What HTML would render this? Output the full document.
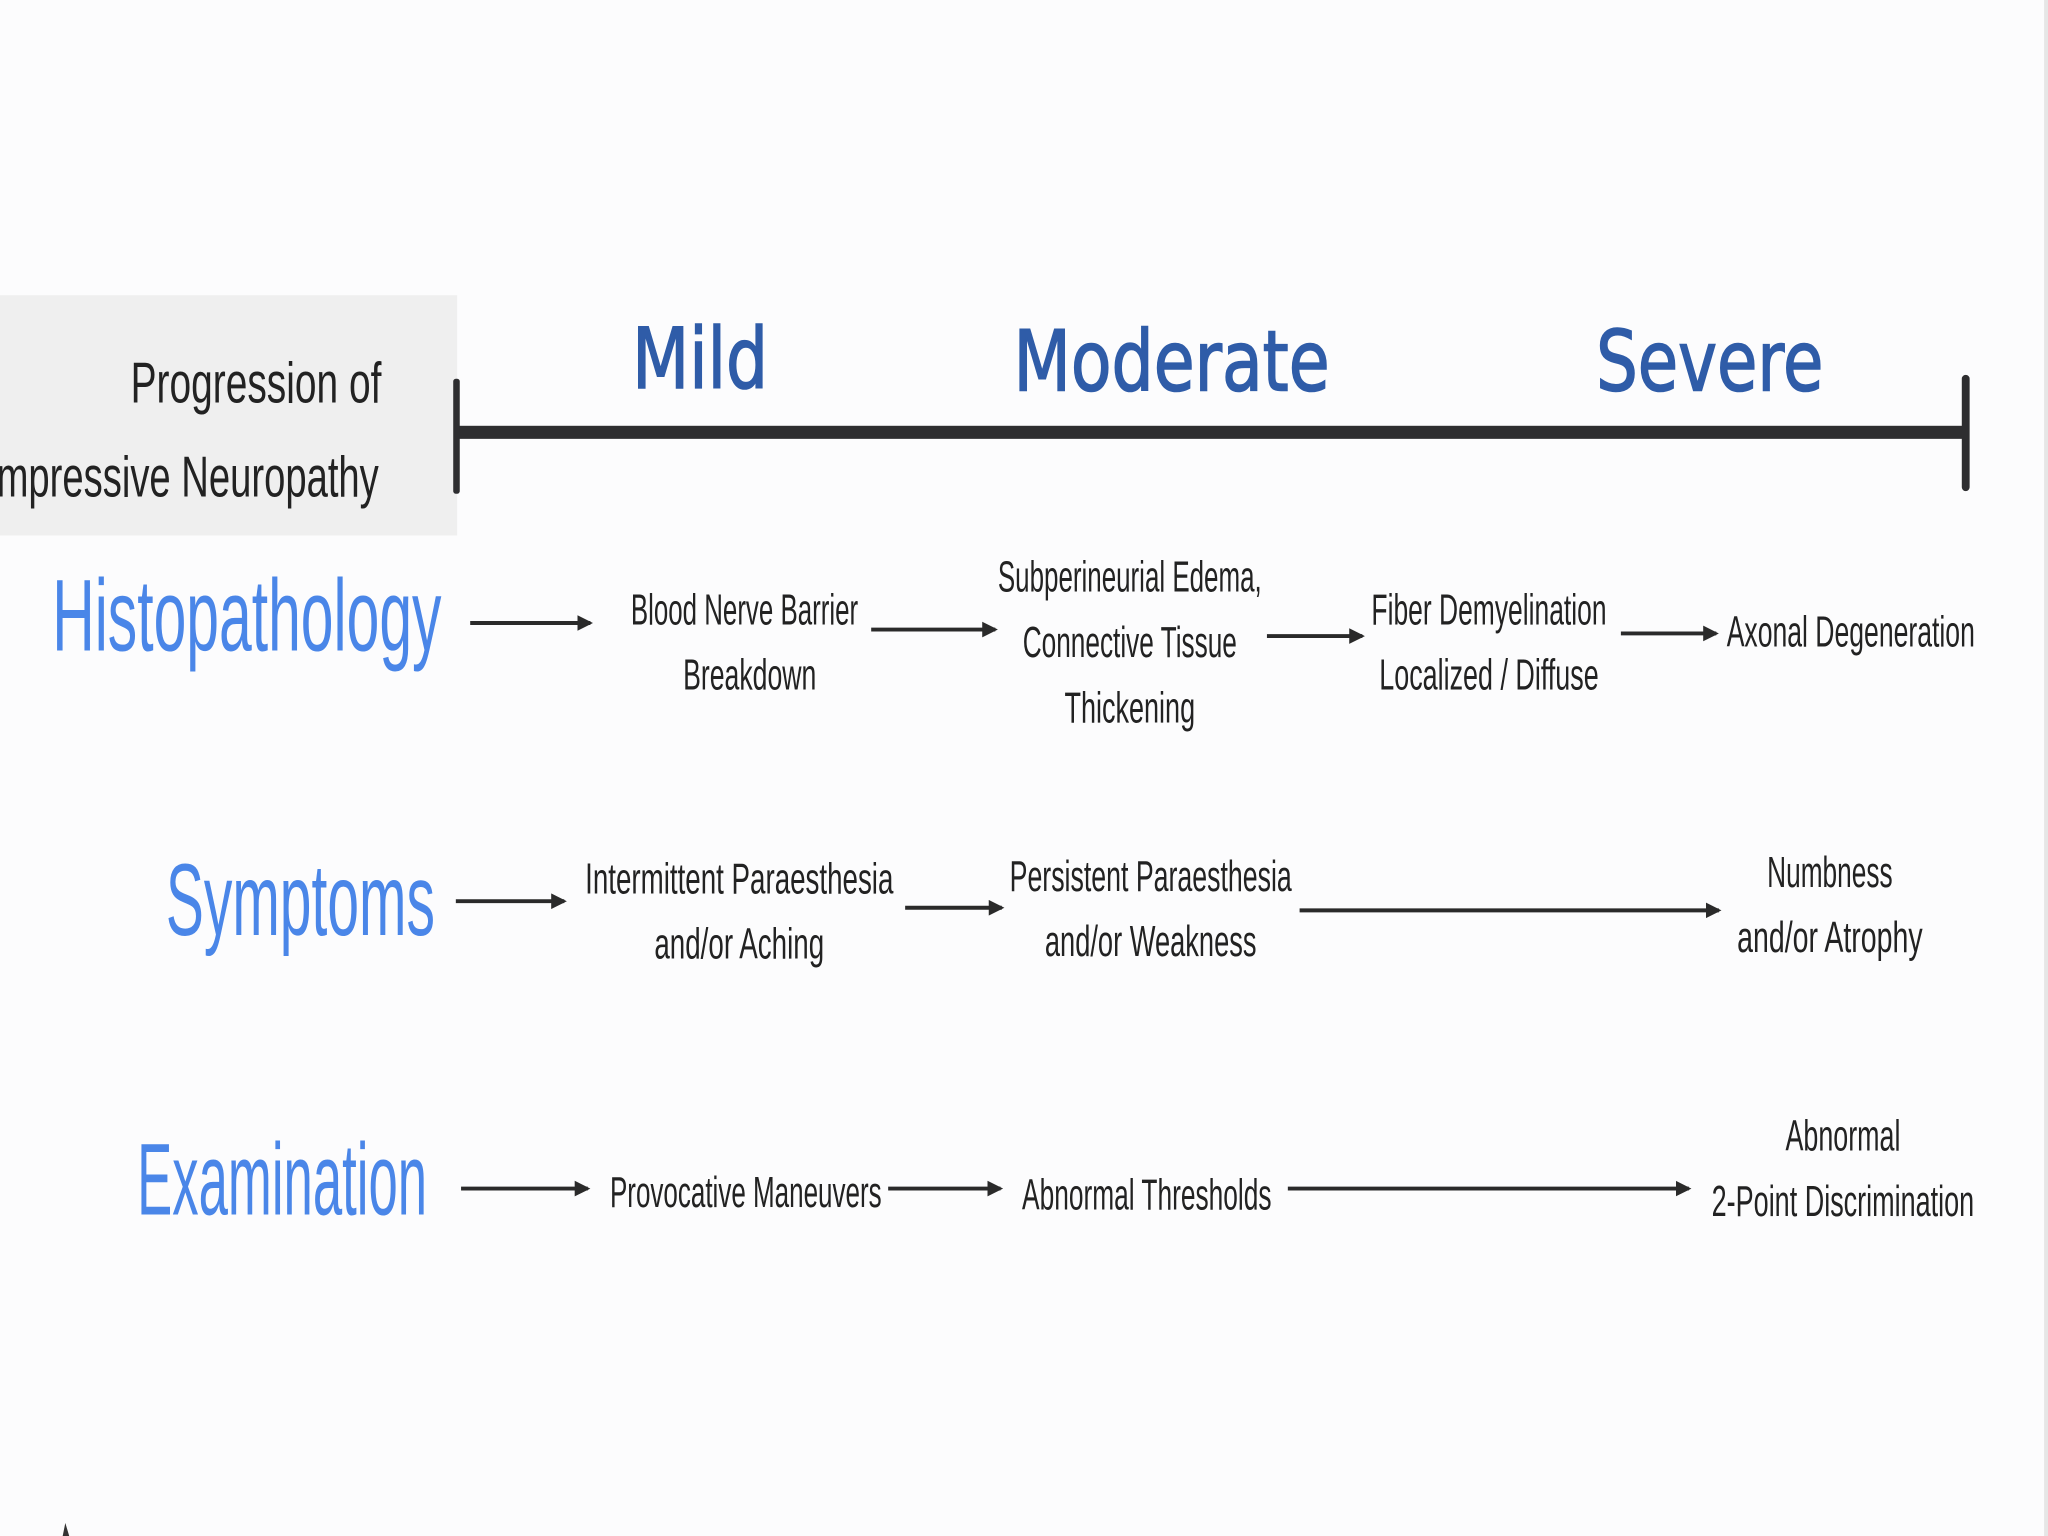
<!DOCTYPE html>
<html><head><meta charset="utf-8"><style>
html,body{margin:0;padding:0;background:#fcfcfd;}
svg{display:block;}
text{font-family:"Liberation Sans Narrow","Liberation Sans",sans-serif;fill:#222;}
.h{fill:#4a86e8;}
.t{fill:#2f5ca8;font-family:"DejaVu Sans","Liberation Sans",sans-serif;stroke:#2f5ca8;stroke-width:1.2;}
</style></head><body>
<svg width="2048" height="1536" viewBox="0 0 1568 1176" xmlns="http://www.w3.org/2000/svg">
<defs><marker id="a" markerWidth="12" markerHeight="12" refX="10" refY="6" orient="auto" markerUnits="userSpaceOnUse"><path d="M0,0 L12,6 L0,12 z" fill="#2a2a2a"/></marker></defs>
<rect x="0" y="0" width="1568" height="1176" fill="#fcfcfd"/>
<rect x="1565" y="0" width="3" height="1176" fill="#e6e6e6"/>
<rect x="0" y="226" width="350" height="184" fill="#efefef"/>
<text x="100" y="308" font-size="44" textLength="192" lengthAdjust="spacingAndGlyphs">Progression of</text>
<text x="-40" y="380" font-size="44" textLength="330" lengthAdjust="spacingAndGlyphs">Compressive Neuropathy</text>
<rect x="350" y="326" width="1155" height="10" fill="#2e2e30"/>
<rect x="347" y="290" width="5" height="88" rx="2" fill="#2e2e30"/>
<rect x="1502" y="287" width="6" height="89" rx="3" fill="#2e2e30"/>
<text class="t" x="484" y="297" font-size="64" textLength="104" lengthAdjust="spacingAndGlyphs">Mild</text>
<text class="t" x="776" y="299" font-size="64" textLength="242" lengthAdjust="spacingAndGlyphs">Moderate</text>
<text class="t" x="1222" y="299" font-size="64" textLength="174" lengthAdjust="spacingAndGlyphs">Severe</text>
<text class="h" x="40" y="498" font-size="78" textLength="298" lengthAdjust="spacingAndGlyphs">Histopathology</text>
<text class="h" x="127" y="716" font-size="78" textLength="206" lengthAdjust="spacingAndGlyphs">Symptoms</text>
<text class="h" x="105" y="930" font-size="78" textLength="222" lengthAdjust="spacingAndGlyphs">Examination</text>
<g stroke="#2a2a2a" stroke-width="3" marker-end="url(#a)">
<line x1="360" y1="477" x2="452" y2="477"/>
<line x1="667" y1="482" x2="762" y2="482"/>
<line x1="970" y1="487" x2="1043" y2="487"/>
<line x1="1241" y1="485" x2="1314" y2="485"/>
<line x1="349" y1="690" x2="432" y2="690"/>
<line x1="693" y1="695" x2="767" y2="695"/>
<line x1="995" y1="697" x2="1316" y2="697"/>
<line x1="353" y1="910" x2="450" y2="910"/>
<line x1="680" y1="910" x2="766" y2="910"/>
<line x1="986" y1="910" x2="1293" y2="910"/>
</g>
<g font-size="33" text-anchor="middle">
<text x="570" y="478" textLength="174" lengthAdjust="spacingAndGlyphs">Blood Nerve Barrier</text>
<text x="574" y="528" textLength="102" lengthAdjust="spacingAndGlyphs">Breakdown</text>
<text x="865" y="453" textLength="202" lengthAdjust="spacingAndGlyphs">Subperineurial Edema,</text>
<text x="865" y="503" textLength="164" lengthAdjust="spacingAndGlyphs">Connective Tissue</text>
<text x="865" y="553" textLength="100" lengthAdjust="spacingAndGlyphs">Thickening</text>
<text x="1140" y="478" textLength="180" lengthAdjust="spacingAndGlyphs">Fiber Demyelination</text>
<text x="1140" y="528" textLength="168" lengthAdjust="spacingAndGlyphs">Localized / Diffuse</text>
<text x="1417" y="495" textLength="190" lengthAdjust="spacingAndGlyphs">Axonal Degeneration</text>
<text x="566" y="684" textLength="236" lengthAdjust="spacingAndGlyphs">Intermittent Paraesthesia</text>
<text x="566" y="734" textLength="130" lengthAdjust="spacingAndGlyphs">and/or Aching</text>
<text x="881" y="682" textLength="216" lengthAdjust="spacingAndGlyphs">Persistent Paraesthesia</text>
<text x="881" y="732" textLength="162" lengthAdjust="spacingAndGlyphs">and/or Weakness</text>
<text x="1401" y="679" textLength="96" lengthAdjust="spacingAndGlyphs">Numbness</text>
<text x="1401" y="729" textLength="142" lengthAdjust="spacingAndGlyphs">and/or Atrophy</text>
<text x="571" y="924" textLength="208" lengthAdjust="spacingAndGlyphs">Provocative Maneuvers</text>
<text x="878" y="926" textLength="191" lengthAdjust="spacingAndGlyphs">Abnormal Thresholds</text>
<text x="1411" y="881" textLength="88" lengthAdjust="spacingAndGlyphs">Abnormal</text>
<text x="1411" y="931" textLength="201" lengthAdjust="spacingAndGlyphs">2-Point Discrimination</text>
</g>
<path d="M48,1176 L50,1166 L53,1176 z" fill="#333"/>
</svg>
</body></html>
